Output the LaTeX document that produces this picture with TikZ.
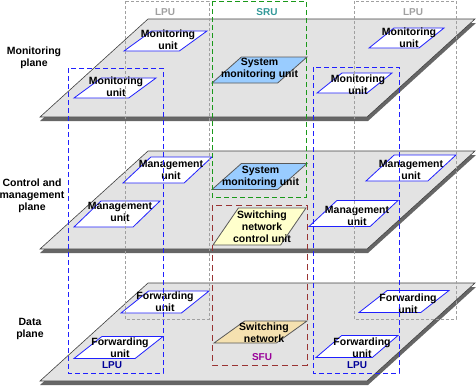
\documentclass[tikz,border=0pt]{standalone}
\usepackage{fontspec}
\setmainfont{Liberation Sans}
\usetikzlibrary{shapes.geometric}

\definecolor{planegray}{HTML}{E3E3E3}
\definecolor{shadowgray}{HTML}{666666}
\definecolor{boxgray}{HTML}{A0A0A0}
\definecolor{srugreen}{HTML}{1A991A}
\definecolor{sruteal}{HTML}{339999}
\definecolor{sfured}{HTML}{993333}
\definecolor{sfupurple}{HTML}{990099}
\definecolor{unitblue}{HTML}{2020FF}
\definecolor{lpublue}{HTML}{2020FF}
\definecolor{lpunavy}{HTML}{000099}
\definecolor{sysblue}{HTML}{99CCFF}
\definecolor{ctlyellow}{HTML}{FFFFCC}
\definecolor{swtan}{HTML}{F5E1B0}

\begin{document}
\begin{tikzpicture}[x=1pt,y=-1pt,
    txt/.style={font=\bfseries\fontsize{10.5}{12}\selectfont,align=center,inner sep=0pt},
    unitbox/.style={trapezium,trapezium stretches=true,inner sep=1pt,outer sep=0pt,
      draw=unitblue,fill=white,line width=0.8pt},
    monunit/.style={unitbox,trapezium left angle=45,trapezium right angle=135,minimum height=20},
    mgmtunit/.style={unitbox,trapezium left angle=50,trapezium right angle=130,minimum height=26},
    fwdunit/.style={unitbox,trapezium left angle=50,trapezium right angle=130,minimum height=22},
    sysunit/.style={unitbox,draw=black!65,fill=sysblue,trapezium left angle=51,trapezium right angle=129,
      minimum width=95,minimum height=26},
    ctlunit/.style={unitbox,draw=black!65,fill=ctlyellow,trapezium left angle=59,trapezium right angle=121,
      minimum width=93,minimum height=37},
    swunit/.style={unitbox,draw=black!65,fill=swtan,trapezium left angle=46,trapezium right angle=134,
      minimum width=93,minimum height=22},
    grouplabel/.style={txt,font=\bfseries\fontsize{10}{12}\selectfont},
    lpubox/.style={draw=lpublue,line width=0.9pt,dash pattern=on 5pt off 3pt},
    backbox/.style={draw=boxgray,line width=0.8pt,dash pattern=on 3pt off 2pt},
    srubox/.style={draw=srugreen,line width=0.8pt,dash pattern=on 5pt off 3pt},
    sfubox/.style={draw=sfured,line width=0.8pt,dash pattern=on 6pt off 4pt}]

\useasboundingbox (0,0) rectangle (476,386);

% the three planes
\foreach \y in {19,151,283} {
  \fill[shadowgray] (149,\y+4) -- (476,\y+4) -- (368,\y+102) -- (40,\y+102) -- cycle;
  \filldraw[fill=planegray,draw=black!75,line width=0.6pt]
    (148,\y) -- (475,\y) -- (367,\y+98) -- (40,\y+98) -- cycle;
}

% plane names
\node[txt] (mplane) at (34,57.5) {Monitoring\\plane};
\node[txt] (cplane) at (32,196) {Control and\\management\\plane};
\node[txt] (dplane) at (30,328.5) {Data\\plane};

% monitoring plane
\node[monunit,minimum width=83] (mlb) at (165.5,41) {};
\node[txt] (mlbt) at (168,40) {Monitoring\\unit};
\node[monunit,minimum width=82] (mlf) at (115,88) {};
\node[txt] (mlft) at (116,86.5) {Monitoring\\unit};
\node[sysunit] (msys) at (259.5,70) {};
\node[txt] (msyst) at (259.5,69) {System\\monitoring unit};
\node[monunit,minimum width=75] (mrb) at (406.5,38) {};
\node[txt] (mrbt) at (409,38) {Monitoring\\unit};
\node[monunit,minimum width=75] (mrf) at (354.5,83) {};
\node[txt] (mrft) at (358,84.5) {Monitoring\\unit};

% control and management plane
\node[mgmtunit,minimum width=89] (clb) at (167.5,170) {};
\node[txt] (clbt) at (171,169.5) {Management\\unit};
\node[mgmtunit,minimum width=86] (clf) at (117,214) {};
\node[txt] (clft) at (120,212) {Management\\unit};
\node[sysunit] (csys) at (259.5,176.5) {};
\node[txt] (csyst) at (260.5,177) {System\\monitoring unit};
\node[ctlunit] (cctl) at (259.5,226.5) {};
\node[txt] (cctlt) at (262,226.5) {Switching\\network\\control unit};
\node[mgmtunit,minimum width=90] (crb) at (411,168) {};
\node[txt] (crbt) at (411,169.5) {Management\\unit};
\node[mgmtunit,minimum width=89] (crf) at (353.5,213.5) {};
\node[txt] (crft) at (357,216) {Management\\unit};

% data plane
\node[fwdunit,minimum width=88] (dlb) at (165,302) {};
\node[txt] (dlbt) at (165,302) {Forwarding\\unit};
\node[fwdunit,minimum width=89] (dlf) at (118.5,347.5) {};
\node[txt] (dlft) at (120,347.5) {Forwarding\\unit};
\node[swunit] (dsw) at (260.5,332) {};
\node[txt] (dswt) at (264,333) {Switching\\network};
\node[fwdunit,minimum width=90] (drb) at (404,301.5) {};
\node[txt] (drbt) at (408,304) {Forwarding\\unit};
\node[fwdunit,minimum width=82] (drf) at (357,346.5) {};
\node[txt] (drft) at (362,348) {Forwarding\\unit};

% boards
\draw[backbox] (125,1) rectangle (209,319);
\draw[backbox] (354,1) rectangle (456,319);
\draw[srubox] (212,1) rectangle (306,197);
\draw[sfubox] (212,205) rectangle (307,365);
\draw[lpubox] (68,68) rectangle (163,373);
\draw[lpubox] (313,67) rectangle (399,373);

\node[grouplabel,text=boxgray] (lpua) at (165,12) {LPU};
\node[grouplabel,text=boxgray] (lpub) at (413,12) {LPU};
\node[grouplabel,text=sruteal] (sru) at (267,12) {SRU};
\node[grouplabel,text=sfupurple] (sfu) at (262,357) {SFU};
\node[grouplabel,text=lpunavy] (lpuc) at (112,365) {LPU};
\node[grouplabel,text=lpunavy] (lpud) at (357,365) {LPU};
\end{tikzpicture}
\end{document}
